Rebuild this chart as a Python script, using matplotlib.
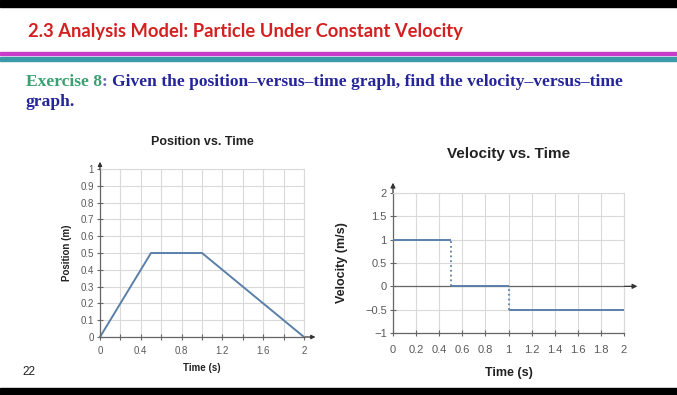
import matplotlib.pyplot as plt
from matplotlib.patches import Rectangle

W, H = 677, 395

# data
pos_t = [0, 0.5, 1.0, 2.0]
pos_x = [0, 0.5, 0.5, 0]
pos_xticks = [0, 0.4, 0.8, 1.2, 1.6, 2]
pos_xlabels = ['0', '0.4', '0.8', '1.2', '1.6', '2']
pos_yticks = [i / 10 for i in range(11)]
pos_ylabels = ['0', '0.1', '0.2', '0.3', '0.4', '0.5', '0.6', '0.7', '0.8', '0.9', '1']

vel_edges = [0, 0.5, 1.0, 2.0]
vel_v = [1, 0, -0.5]
vel_xticks = [i / 5 for i in range(11)]
vel_xlabels = ['0', '0.2', '0.4', '0.6', '0.8', '1', '1.2', '1.4', '1.6', '1.8', '2']
vel_yticks = [-1, -0.5, 0, 0.5, 1, 1.5, 2]
vel_ylabels = ['\u22121', '\u22120.5', '0', '0.5', '1', '1.5', '2']

line_c = '#5b80a8'
grid_c = '#dadada'
axis_c = '#666666'
tick_c = '#5a5a5a'
blue_c = '#25259a'

fig = plt.figure(figsize=(W / 100, H / 100), dpi=100)
fig.patch.set_facecolor('white')


def fx(px):
    return px / W


def fy(py):
    return 1 - py / H


# slide decoration
fig.add_artist(Rectangle((0, fy(7)), 1, 7 / H, transform=fig.transFigure, color='black'))
fig.add_artist(Rectangle((0, 0), 1, 7 / H, transform=fig.transFigure, color='black'))
fig.add_artist(Rectangle((0, fy(55)), 1, 3 / H, transform=fig.transFigure, color='#c93bc9'))
fig.add_artist(Rectangle((0, fy(61)), 1, 4 / H, transform=fig.transFigure, color='#3a9aa8'))

fig.text(fx(28), fy(32), '2.3 Analysis Model: Particle Under Constant Velocity',
         family='Lato', weight='bold', fontsize=13.2, color='#d42020', va='center')

# exercise line, written in runs of different colours
renderer = fig.canvas.get_renderer()
ex_font = dict(family='Liberation Serif', weight='bold', fontsize=12.6, va='baseline')
runs = [('Exercise 8', '#3aa070'), (': ', '#6a6ab0'),
        ('Given the position\u2013versus\u2013time graph, find the velocity\u2013versus\u2013time', blue_c)]
x0 = 26
for txt, col in runs:
    t = fig.text(fx(x0), fy(86), txt, color=col, **ex_font)
    x0 += t.get_window_extent(renderer).width
fig.text(fx(26), fy(106), 'graph.', color=blue_c, **ex_font)
fig.text(fx(22), fy(372), '22', family='Liberation Sans', fontsize=8.5, color='#222222', va='center')


def style(ax, xt, xl, yt, yl, fs):
    ax.set_xticks(xt)
    ax.set_xticklabels(xl)
    ax.set_yticks(yt)
    ax.set_yticklabels(yl)
    ax.grid(True, color=grid_c, lw=0.8)
    ax.set_axisbelow(True)
    for s in ['top', 'right']:
        ax.spines[s].set_color(grid_c)
        ax.spines[s].set_linewidth(0.8)
    for s in ['left', 'bottom']:
        ax.spines[s].set_color(axis_c)
        ax.spines[s].set_linewidth(0.9)
    ax.tick_params(direction='inout', length=5, width=0.8, color=axis_c,
                   labelsize=fs, labelcolor=tick_c, pad=2)
    for lab in ax.get_xticklabels() + ax.get_yticklabels():
        lab.set_family('Liberation Sans')


# Position vs. Time
ax1 = fig.add_axes([fx(100), fy(337), fx(304) - fx(100), fy(169) - fy(337)])
ax1.set_xlim(0, 2)
ax1.set_ylim(0, 1)
style(ax1, pos_xticks, pos_xlabels, pos_yticks, pos_ylabels, 7)
ax1.tick_params(axis='x', pad=4)
ax1.set_xticks([i / 5 for i in range(11)], minor=True)
ax1.tick_params(which='minor', direction='inout', length=5, width=0.8, color=axis_c)
ax1.xaxis.grid(True, which='minor', color=grid_c, lw=0.8)
ax1.plot(pos_t, pos_x, color=line_c, lw=1.4, clip_on=False)
ax1.annotate('', xy=(0, 1.06), xytext=(0, 0.98), xycoords='data',
             arrowprops=dict(arrowstyle='-|>', color='#333333', lw=0.9, mutation_scale=6), annotation_clip=False)
ax1.annotate('', xy=(2.14, 0), xytext=(1.98, 0), xycoords='data',
             arrowprops=dict(arrowstyle='-|>', color='#333333', lw=0.9, mutation_scale=6), annotation_clip=False)
ax1.set_title('Position vs. Time', family='Liberation Sans', weight='bold', fontsize=9, pad=17, color='#222222')
ax1.set_xlabel('Time (s)', family='Liberation Sans', weight='bold', fontsize=7, labelpad=5, color='#222222')
ax1.set_ylabel('Position (m)', family='Liberation Sans', weight='bold', fontsize=7, labelpad=6, color='#222222')

# Velocity vs. Time
ax2 = fig.add_axes([fx(393), fy(333), fx(624) - fx(393), fy(193) - fy(333)])
ax2.set_xlim(0, 2)
ax2.set_ylim(-1, 2)
style(ax2, vel_xticks, vel_xlabels, vel_yticks, vel_ylabels, 8)
ax2.tick_params(axis='x', pad=6)
ax2.axhline(0, color=axis_c, lw=0.9, zorder=1.5)
ax2.hlines(vel_v, vel_edges[:-1], vel_edges[1:], color=line_c, lw=1.4, zorder=3)
ax2.vlines(vel_edges[1:-1], vel_v[1:], vel_v[:-1], color=line_c, lw=1.3, linestyles=':', zorder=3)
ax2.annotate('', xy=(0, 2.28), xytext=(0, 1.95), xycoords='data',
             arrowprops=dict(arrowstyle='-|>', color='#333333', lw=0.9, mutation_scale=7), annotation_clip=False)
ax2.annotate('', xy=(2.14, 0), xytext=(1.98, 0), xycoords='data',
             arrowprops=dict(arrowstyle='-|>', color='#333333', lw=0.9, mutation_scale=7), annotation_clip=False)
ax2.set_title('Velocity vs. Time', family='Liberation Sans', weight='bold', fontsize=11, pad=25, color='#222222')
ax2.set_xlabel('Time (s)', family='Liberation Sans', weight='bold', fontsize=9, labelpad=9, color='#222222')
ax2.set_ylabel('Velocity (m/s)', family='Liberation Sans', weight='bold', fontsize=9, labelpad=12, color='#222222')

fig.savefig('out.png', dpi=100)
